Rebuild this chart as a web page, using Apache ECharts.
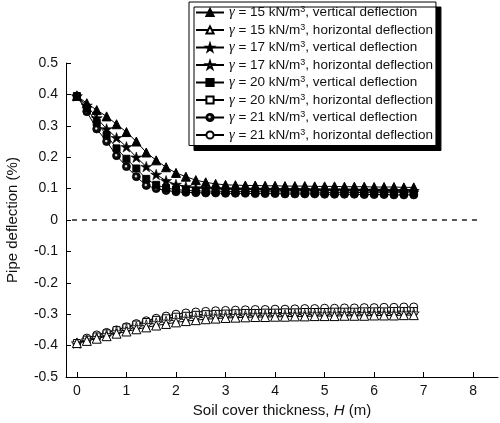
<!DOCTYPE html>
<html><head><meta charset="utf-8">
<script src="https://cdn.jsdelivr.net/npm/echarts@6/dist/echarts.min.js"></script>
<style>html,body{margin:0;padding:0;background:#fff}#c{width:500px;height:423px}</style>
</head><body><div id="c"></div>
<script>
// Soil cover thickness H (m)
const H = [0,0.2,0.4,0.6,0.8,1,1.2,1.4,1.6,1.8,2,2.2,2.4,2.6,2.8,3,3.2,3.4,3.6,3.8,4,4.2,4.4,4.6,4.8,5,5.2,5.4,5.6,5.8,6,6.2,6.4,6.6,6.8];
const gammas = [15, 17, 20, 21];
// vertical deflection (%)
const vert15 = [0.395,0.372,0.350,0.330,0.305,0.280,0.250,0.215,0.190,0.168,0.150,0.138,0.127,0.120,0.115,0.112,0.111,0.110,0.110,0.109,0.109,0.108,0.108,0.108,0.107,0.107,0.107,0.106,0.106,0.106,0.105,0.105,0.105,0.104,0.104];
const vert17 = [0.395,0.365,0.325,0.290,0.262,0.233,0.200,0.170,0.145,0.125,0.113,0.106,0.102,0.100,0.099,0.098,0.098,0.097,0.097,0.097,0.096,0.096,0.096,0.096,0.095,0.095,0.095,0.095,0.094,0.094,0.094,0.094,0.093,0.093,0.093];
const vert20 = [0.395,0.355,0.310,0.270,0.228,0.195,0.164,0.131,0.112,0.102,0.097,0.094,0.093,0.092,0.092,0.091,0.091,0.091,0.090,0.090,0.090,0.089,0.089,0.089,0.089,0.088,0.088,0.088,0.088,0.087,0.087,0.087,0.087,0.087,0.086];
const vert21 = [0.395,0.345,0.290,0.250,0.205,0.170,0.138,0.110,0.100,0.094,0.090,0.088,0.087,0.086,0.086,0.085,0.085,0.085,0.084,0.084,0.084,0.083,0.083,0.083,0.083,0.082,0.082,0.082,0.082,0.081,0.081,0.081,0.080,0.080,0.080];
// horizontal deflection (%)
const hor15 = [-0.392,-0.385,-0.378,-0.370,-0.362,-0.355,-0.348,-0.342,-0.336,-0.331,-0.326,-0.322,-0.319,-0.316,-0.314,-0.312,-0.311,-0.310,-0.309,-0.309,-0.308,-0.308,-0.307,-0.307,-0.306,-0.306,-0.306,-0.305,-0.305,-0.305,-0.304,-0.304,-0.304,-0.303,-0.303];
const hor17 = [-0.392,-0.383,-0.375,-0.366,-0.357,-0.349,-0.341,-0.334,-0.328,-0.323,-0.318,-0.314,-0.311,-0.309,-0.307,-0.306,-0.305,-0.304,-0.303,-0.303,-0.302,-0.302,-0.301,-0.301,-0.300,-0.300,-0.300,-0.299,-0.299,-0.299,-0.298,-0.298,-0.298,-0.297,-0.297];
const hor20 = [-0.392,-0.381,-0.371,-0.361,-0.351,-0.342,-0.333,-0.325,-0.318,-0.313,-0.308,-0.305,-0.302,-0.300,-0.299,-0.298,-0.297,-0.296,-0.296,-0.295,-0.295,-0.294,-0.294,-0.293,-0.293,-0.293,-0.292,-0.292,-0.292,-0.291,-0.291,-0.291,-0.290,-0.290,-0.290];
const hor21 = [-0.392,-0.376,-0.366,-0.358,-0.350,-0.340,-0.330,-0.321,-0.313,-0.306,-0.300,-0.296,-0.293,-0.291,-0.289,-0.288,-0.287,-0.286,-0.285,-0.285,-0.284,-0.284,-0.283,-0.282,-0.282,-0.281,-0.281,-0.280,-0.280,-0.279,-0.279,-0.278,-0.278,-0.277,-0.277];
// tick labels
const xTicks = [0,1,2,3,4,5,6,7,8];
const yTicks = [-0.5,-0.4,-0.3,-0.2,-0.1,0,0.1,0.2,0.3,0.4,0.5];
// dashed zero reference line extent
const zeroLineX = [-0.1, 8.1];

const FONT = 'Liberation Sans, Arial, Helvetica, sans-serif';
const STAR = 'path://M50,0 L61.2,34.5 L97.6,34.5 L68.2,55.9 L79.4,90.5 L50,69.1 L20.6,90.5 L31.8,55.9 L2.4,34.5 L38.8,34.5 Z';
const SPHERE = {type:'radial', x:0.45, y:0.45, r:0.6, colorStops:[
  {offset:0, color:'#ffffff'},{offset:0.14, color:'#cccccc'},{offset:0.32, color:'#111111'},{offset:1, color:'#000000'}]};

const defs = [
  {g:gammas[0], kind:'vertical',   data:vert15, symbol:'triangle', size:9,  fill:'#000', bw:1},
  {g:gammas[0], kind:'horizontal', data:hor15,  symbol:'triangle', size:9,  fill:'#fff', bw:1},
  {g:gammas[1], kind:'vertical',   data:vert17, symbol:STAR,       size:11, fill:'#000', bw:0.6},
  {g:gammas[1], kind:'horizontal', data:hor17,  symbol:STAR,       size:11, fill:'#fff', bw:0.8},
  {g:gammas[2], kind:'vertical',   data:vert20, symbol:'rect',     size:7,  fill:'#000', bw:1},
  {g:gammas[2], kind:'horizontal', data:hor20,  symbol:'rect',     size:7,  fill:'#fff', bw:1},
  {g:gammas[3], kind:'vertical',   data:vert21, symbol:'circle',   size:8,  fill:SPHERE, bw:0.8},
  {g:gammas[3], kind:'horizontal', data:hor21,  symbol:'circle',   size:8,  fill:'#fff', bw:1}
];
const names = defs.map(d => 'γ = ' + d.g + ' kN/m3, ' + d.kind + ' deflection');

const series = defs.map((d, k) => ({
  type:'line', name:names[k],
  data:H.map((x, i) => [x, d.data[i]]),
  symbol:d.symbol, symbolSize:d.size, symbolKeepAspect:true, showSymbol:true,
  lineStyle:{color:'#000', width:1},
  itemStyle:{color:d.fill, borderColor:'#000', borderWidth:d.bw},
  color:'#000', animation:false, z:10 - k
}));
series.push({
  type:'line', name:'zero', data:zeroLineX.map(x => [x, 0]), symbol:'none', silent:true,
  lineStyle:{color:'#000', width:1.3, type:[5,5]}, animation:false
});

const chart = echarts.init(document.getElementById('c'), null, {renderer:'canvas'});
chart.setOption({
  backgroundColor:'#fff',
  animation:false,
  grid:{left:66, right:2, top:63, bottom:46, containLabel:false, outerBoundsMode:'none'},
  legend:{
    data:names, orient:'vertical', left:189, top:2,
    itemWidth:28, itemHeight:9, itemGap:2.5, padding:[3,3,3,6],
    backgroundColor:'#fff', borderColor:'#000', borderWidth:1, borderRadius:0,
    shadowColor:'#000', shadowOffsetX:5, shadowOffsetY:5, shadowBlur:0,
    selectedMode:false,
    formatter: n => n.replace('γ', '{g|γ}').replace('m3', 'm{s|3}'),
    textStyle:{fontFamily:FONT, fontSize:13.5, color:'#111', lineHeight:14,
      rich:{g:{fontFamily:'Liberation Serif, serif', fontStyle:'italic', fontSize:14.5, lineHeight:14},
            s:{fontFamily:FONT, fontSize:9, lineHeight:9, verticalAlign:'top'}}}
  },
  xAxis:{
    type:'value', min:-0.22, max:8.5,
    axisLine:{show:true, onZero:false, lineStyle:{color:'#000', width:1}},
    axisTick:{show:true, inside:true, length:5, customValues:xTicks, lineStyle:{color:'#000'}},
    axisLabel:{customValues:xTicks, fontFamily:FONT, fontSize:14, color:'#111', margin:7},
    splitLine:{show:false},
    name:'Soil cover thickness, {i|H} (m)', nameLocation:'middle', nameGap:26,
    nameTextStyle:{fontFamily:FONT, fontSize:15, color:'#111', rich:{i:{fontFamily:FONT, fontStyle:'italic', fontSize:15}}}
  },
  yAxis:{
    type:'value', min:-0.5, max:0.5,
    axisLine:{show:true, onZero:false, lineStyle:{color:'#000', width:1}},
    axisTick:{show:true, inside:true, length:5, customValues:yTicks, lineStyle:{color:'#000'}},
    axisLabel:{customValues:yTicks, fontFamily:FONT, fontSize:14, color:'#111', margin:8,
      formatter: v => { const r = Math.round(v * 10) / 10; return r === 0 ? '0' : r.toFixed(1); }},
    splitLine:{show:false},
    name:'Pipe deflection (%)', nameLocation:'middle', nameGap:46, nameRotate:90,
    nameTextStyle:{fontFamily:FONT, fontSize:15, color:'#111'}
  },
  series:series
});
</script></body></html>
